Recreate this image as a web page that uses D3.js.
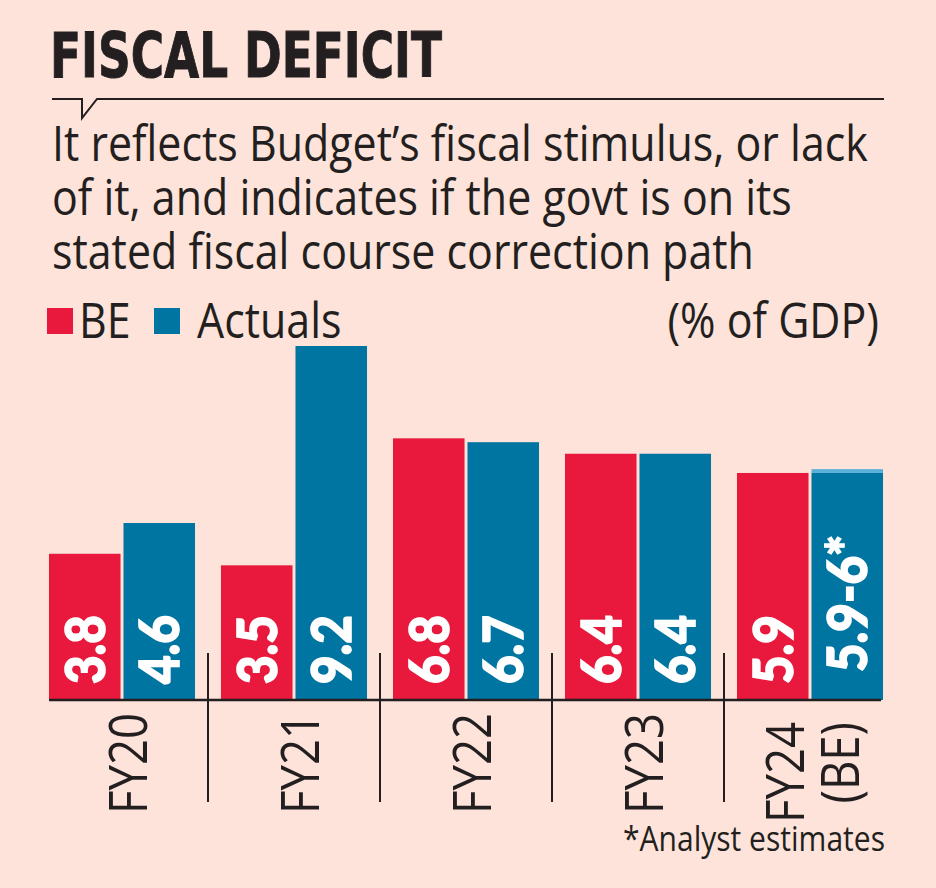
<!DOCTYPE html>
<html>
<head>
<meta charset="utf-8">
<script src="https://cdn.jsdelivr.net/npm/d3@7"></script>
<style>
  body { margin: 0; background: #FDE3D9; }
  svg { display: block; }
</style>
</head>
<body>
<script>
// Data
const years = ['FY20', 'FY21', 'FY22', 'FY23', 'FY24']
const yearLines = [['FY20'], ['FY21'], ['FY22'], ['FY23'], ['FY24', '(BE)']]
const series = ['BE', 'Actuals']
const beValues = [3.8, 3.5, 6.8, 6.4, 5.9]
const actualValues = [4.6, 9.2, 6.7, 6.4, 5.9]
const actualHigh = [null, null, null, null, 6.0]   // top of the analyst range
const beLabels = ['3.8', '3.5', '6.8', '6.4', '5.9']
const actualLabels = ['4.6', '9.2', '6.7', '6.4', '5.9-6*']

const subtitle = [
  'It reflects Budget\u2019s fiscal stimulus, or lack',
  'of it, and indicates if the govt is on its',
  'stated fiscal course correction path'
]

const colors = { BE: '#E8193C', Actuals: '#0075A2', range: '#5AB0D8', ink: '#231F20', bg: '#FDE3D9' }
const textFont = '"Open Sans", "Noto Sans", sans-serif'

const width = 936
const height = 888

// Declare SVG
const svg = d3.select('body').append('svg')
    .attr('width', width)
    .attr('height', height)

svg.append('rect')
    .attr('width', width)
    .attr('height', height)
    .attr('fill', colors.bg)

// Title
const title = svg.append('text')
    .text('FISCAL DEFICIT')
    .attr('font-family', '"DejaVu Sans", sans-serif')
    .attr('font-weight', 'bold')
    .attr('font-size', 62)
    .attr('fill', colors.ink)
    .attr('stroke', colors.ink)
    .attr('stroke-width', 1)
const titleW = title.node().getComputedTextLength()
title.attr('transform', `translate(50 77) scale(${392 / titleW} 1)`)

// Speech bubble rule
svg.append('path')
    .attr('d', 'M52,99 H82 V118 L97,99 H884')
    .attr('fill', 'none')
    .attr('stroke', colors.ink)
    .attr('stroke-width', 2)

// Subtitle, condensed to the original width
const sub = svg.append('g')
const subLines = sub.selectAll('text')
    .data(subtitle)
    .enter().append('text')
    .text(d => d)
    .attr('font-family', textFont)
    .attr('font-size', 50)
    .attr('fill', colors.ink)
const sx = 816 / subLines.nodes()[0].getComputedTextLength()
subLines.attr('transform', (d, i) => `translate(52 ${161 + i * 54}) scale(${sx} 1)`)

// helper for condensed text
function label(parent, str, x, y, size, anchor) {
  return parent.append('text')
      .text(str)
      .attr('font-family', textFont)
      .attr('font-size', size)
      .attr('fill', colors.ink)
      .attr('text-anchor', anchor || 'start')
      .attr('transform', `translate(${x} ${y}) scale(${sx} 1)`)
}

// Legend
const legend = svg.append('g')
legend.append('rect').attr('x', 47).attr('y', 308).attr('width', 26).attr('height', 26).attr('fill', colors.BE)
label(legend, 'BE', 79, 338, 50)
legend.append('rect').attr('x', 154).attr('y', 308).attr('width', 26).attr('height', 26).attr('fill', colors.Actuals)
label(legend, 'Actuals', 197, 338, 50)
label(legend, '(% of GDP)', 879, 338, 50, 'end')

// Scales
const x0 = d3.scaleBand()
    .domain(years)
    .range([36, 896])
    .paddingInner(0.151)
    .paddingOuter(0.0755)

const x1 = d3.scaleBand()
    .domain(series)
    .range([0, x0.bandwidth()])
    .paddingInner(0.04)

const y = d3.scaleLinear()
    .domain([0, 9.2])
    .range([700, 346])

const rows = years.map((yr, i) => ({
  year: yr,
  bars: [
    { key: 'BE', value: beValues[i], label: beLabels[i] },
    { key: 'Actuals', value: actualValues[i], high: actualHigh[i], label: actualLabels[i] }
  ]
}))

// Bars
const groups = svg.selectAll('.group')
    .data(rows)
    .enter().append('g')
    .attr('class', 'group')
    .attr('transform', d => `translate(${x0(d.year)} 0)`)

const bars = groups.selectAll('.bar')
    .data(d => d.bars)
    .enter().append('g')
    .attr('class', 'bar')

bars.append('rect')
    .attr('x', d => x1(d.key))
    .attr('y', d => y(d.value))
    .attr('width', x1.bandwidth())
    .attr('height', d => y(0) - y(d.value))
    .attr('fill', d => colors[d.key])

bars.filter(d => d.high != null).append('rect')
    .attr('x', d => x1(d.key))
    .attr('y', d => y(d.high))
    .attr('width', x1.bandwidth())
    .attr('height', d => y(d.value) - y(d.high))
    .attr('fill', colors.range)

// Value labels inside bars
const valueText = bars.append('text')
    .text(d => d.label)
    .attr('font-family', 'Lato, Roboto, sans-serif')
    .attr('font-weight', 900)
    .attr('font-size', 55)
    .attr('fill', '#fff')
    .attr('stroke', '#fff')
    .attr('stroke-width', 1.6)
    .attr('dy', '0.36em')
const vsx = 69 / valueText.nodes()[0].getComputedTextLength()
valueText.attr('transform', d => {
  const cx = x1(d.key) + x1.bandwidth() / 2
  const y0 = d.high != null ? 672 : 684
  return `translate(${cx} ${y0}) rotate(-90) scale(${vsx} 1)`
})

// Baseline
svg.append('line')
    .attr('x1', x0(years[0]))
    .attr('x2', x0(years[years.length - 1]) + x0.bandwidth() - 2)
    .attr('y1', y(0))
    .attr('y2', y(0))
    .attr('stroke', colors.ink)
    .attr('stroke-width', 2.5)

// Dividers between years
const gap = x0.step() - x0.bandwidth()
svg.selectAll('.divider')
    .data(years.slice(1))
    .enter().append('line')
    .attr('class', 'divider')
    .attr('x1', d => x0(d) - gap / 2)
    .attr('x2', d => x0(d) - gap / 2)
    .attr('y1', 653)
    .attr('y2', 802)
    .attr('stroke', colors.ink)
    .attr('stroke-width', 2)

// Year labels, rotated
yearLines.forEach((lines, i) => {
  const cx = x0(years[i]) + x0.bandwidth() / 2
  const n = lines.length
  lines.forEach((str, k) => {
    svg.append('text')
        .text(str)
        .attr('font-family', textFont)
        .attr('font-size', 53)
        .attr('fill', colors.ink)
        .attr('text-anchor', 'end')
        .attr('transform', `translate(${cx + 25 - (n - 1) * 31 + k * 55} ${713 + (n - 1) * 9}) rotate(-90) scale(${sx} 1)`)
  })
})

// Footnote
label(svg, '*Analyst estimates', 885, 851, 35, 'end')
</script>
</body>
</html>
